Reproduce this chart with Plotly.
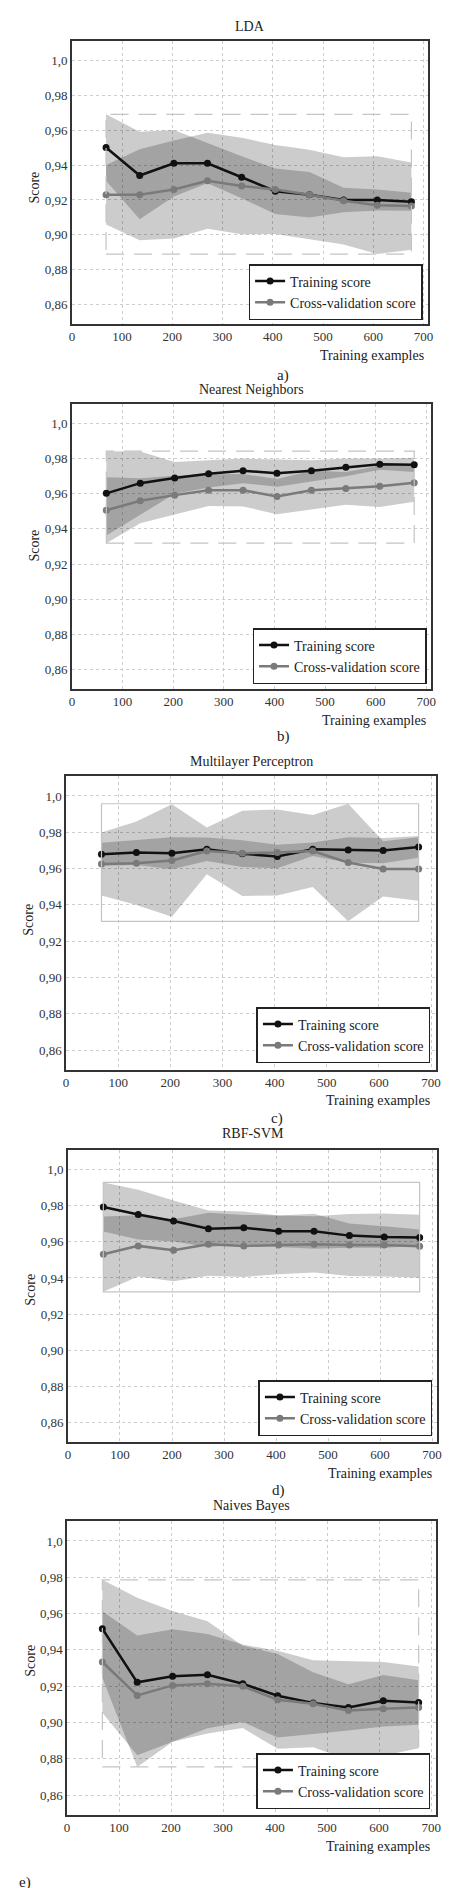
import numpy as np
import plotly.graph_objects as go

# ---- data ----
train_sizes = [68, 135, 203, 270, 338, 405, 473, 541, 608, 676]

lda_train_mean = [0.950, 0.934, 0.941, 0.941, 0.933, 0.925, 0.923, 0.920, 0.920, 0.919]
lda_train_std = [0.019, 0.025, 0.019, 0.0115, 0.012, 0.013, 0.013, 0.007, 0.006, 0.0052]
lda_cv_mean = [0.923, 0.923, 0.926, 0.931, 0.928, 0.926, 0.923, 0.9195, 0.917, 0.9165]
lda_cv_std = [0.017, 0.026, 0.028, 0.0275, 0.0276, 0.0255, 0.0257, 0.025, 0.028, 0.025]

knn_train_mean = [0.9602, 0.966, 0.969, 0.9713, 0.973, 0.9717, 0.973, 0.975, 0.9768, 0.9764]
knn_train_std = [0.024, 0.018, 0.009, 0.0077, 0.007, 0.0077, 0.006, 0.005, 0.0032, 0.0041]
knn_cv_mean = [0.9506, 0.956, 0.9592, 0.962, 0.962, 0.9584, 0.962, 0.963, 0.9642, 0.9663]
knn_cv_std = [0.0187, 0.0128, 0.011, 0.009, 0.0092, 0.010, 0.011, 0.0093, 0.0117, 0.0108]

mlp_train_mean = [0.9679, 0.9688, 0.9684, 0.9706, 0.9682, 0.9666, 0.9706, 0.9702, 0.9699, 0.9719]
mlp_train_std = [0.0063, 0.0069, 0.0088, 0.0065, 0.0074, 0.0065, 0.0037, 0.007, 0.007, 0.006]
mlp_cv_mean = [0.9625, 0.9629, 0.9644, 0.9697, 0.9684, 0.9688, 0.9697, 0.9633, 0.9598, 0.9598]
mlp_cv_std = [0.0173, 0.023, 0.031, 0.0129, 0.0235, 0.0237, 0.0198, 0.0324, 0.0152, 0.0175]

svm_train_mean = [0.9794, 0.9752, 0.9716, 0.9673, 0.9679, 0.9659, 0.9659, 0.9635, 0.9627, 0.9624]
svm_train_std = [0.0136, 0.0138, 0.0114, 0.0101, 0.009, 0.0087, 0.0097, 0.0067, 0.006, 0.0045]
svm_cv_mean = [0.9532, 0.9578, 0.9554, 0.9587, 0.9578, 0.9583, 0.9587, 0.9583, 0.9583, 0.9576]
svm_cv_std = [0.0209, 0.017, 0.0172, 0.0175, 0.0172, 0.0162, 0.0156, 0.0172, 0.0175, 0.0175]

nb_train_mean = [0.9516, 0.9221, 0.9254, 0.9263, 0.9213, 0.9147, 0.9107, 0.9083, 0.912, 0.911]
nb_train_std = [0.027, 0.0466, 0.036, 0.0295, 0.021, 0.023, 0.017, 0.0127, 0.0142, 0.0123]
nb_cv_mean = [0.9333, 0.9149, 0.9204, 0.9213, 0.9199, 0.9125, 0.9103, 0.9066, 0.9075, 0.9083]
nb_cv_std = [0.028, 0.033, 0.031, 0.0274, 0.023, 0.027, 0.024, 0.027, 0.0258, 0.0225]

titles = ['LDA', 'Nearest Neighbors', 'Multilayer Perceptron', 'RBF-SVM', 'Naives Bayes']
tags = ['a)', 'b)', 'c)', 'd)', 'e)']

x_tick_vals = [0, 100, 200, 300, 400, 500, 600, 700]
x_tick_text = ['0', '100', '200', '300', '400', '500', '600', '700']
y_tick_vals = [0.86, 0.88, 0.90, 0.92, 0.94, 0.96, 0.98, 1.0]
y_tick_text = ['0,86', '0,88', '0,90', '0,92', '0,94', '0,96', '0,98', '1,0']

# ---- page geometry (pixels) ----
W, H = 452, 1888
FONT = 'Liberation Serif'

# plot box: left, top, right, bottom
boxes = [(62, 33, 425, 316), (62, 396, 428, 681), (56, 768, 433, 1062),
         (58, 1142, 434, 1434), (57, 1513, 433, 1807)]
title_y = [19, 382, 753, 1125, 1497]
ylabel_pos = [(24, 180), (24, 538), (17, 912), (19, 1282), (19, 1653)]
xlabel_pos = [(422, 347), (425, 712), (429, 1092), (431, 1465), (429, 1838)]
tag_pos = [(277, 367), (277, 728), (271, 1110), (272, 1482), (14, 1874)]
legend_corner = [(419, 312), (423, 676), (427, 1055), (429, 1428), (427, 1801)]
box_dash = ['18px,10px', '18px,10px', 'solid', 'solid', '18px,10px']


def fx(p):
    return p / W


def fy(p):
    return 1 - p / H


def add_panel(fig, i, train_mean, train_std, cv_mean, cv_std):
    """adds one learning curve panel (bands, lines, decorations)"""
    n = '' if i == 0 else str(i + 1)
    xa, ya = 'x' + n, 'y' + n
    leg = 'legend' + n

    x = np.array(train_sizes)
    tm, ts = np.array(train_mean), np.array(train_std)
    cm, cs = np.array(cv_mean), np.array(cv_std)

    # mean +/- std bands, the overlap comes out darker
    for m, s in ((tm, ts), (cm, cs)):
        fig.add_trace(go.Scatter(
            x=np.concatenate([x, x[::-1]]),
            y=np.concatenate([m + s, (m - s)[::-1]]),
            fill='toself', fillcolor='rgba(0,0,0,0.2)',
            line=dict(width=0), mode='lines', hoverinfo='skip',
            showlegend=False, xaxis=xa, yaxis=ya))

    fig.add_trace(go.Scatter(
        x=x, y=tm, mode='lines+markers', name='Training score',
        line=dict(color='#111111', width=2.5),
        marker=dict(size=7, color='#111111'),
        legend=leg, xaxis=xa, yaxis=ya))
    fig.add_trace(go.Scatter(
        x=x, y=cm, mode='lines+markers', name='Cross-validation score',
        line=dict(color='#7a7a7a', width=2.5),
        marker=dict(size=7, color='#7a7a7a'),
        legend=leg, xaxis=xa, yaxis=ya))

    # faint bounding frame of the shaded areas (visible in the scan)
    fig.add_shape(type='rect', xref=xa, yref=ya,
                  x0=x.min(), x1=x.max(),
                  y0=min((tm - ts).min(), (cm - cs).min()),
                  y1=max((tm + ts).max(), (cm + cs).max()),
                  line=dict(color='#c4c4c4', width=1.2, dash=box_dash[i]),
                  layer='above')

    l, t, r, b = boxes[i]
    axis_common = dict(showgrid=True, gridcolor='#cdcdcd', griddash='dot',
                       gridwidth=1, showline=True, mirror=True,
                       linecolor='#333333', linewidth=1.5, zeroline=False,
                       ticks='', tickfont=dict(family=FONT, size=13, color='#333333'))
    fig.update_layout({
        'xaxis' + n: dict(domain=[fx(l), fx(r)], range=[0, 710], anchor=ya,
                          tickvals=x_tick_vals, ticktext=x_tick_text, **axis_common),
        'yaxis' + n: dict(domain=[fy(b), fy(t)], range=[0.849, 1.011], anchor=xa,
                          tickvals=y_tick_vals, ticktext=y_tick_text, **axis_common),
        leg: dict(x=fx(legend_corner[i][0]), y=fy(legend_corner[i][1]),
                  xanchor='right', yanchor='bottom', bgcolor='white',
                  bordercolor='#222222', borderwidth=1.5,
                  font=dict(family=FONT, size=14, color='#222222'),
                  tracegroupgap=0, itemwidth=30),
    })

    text_font = dict(family=FONT, color='#222222')
    fig.add_annotation(text=titles[i], x=fx((l + r) / 2), y=fy(title_y[i]),
                       xref='paper', yref='paper', showarrow=False,
                       xanchor='center', yanchor='middle',
                       font=dict(size=14, **text_font))
    fig.add_annotation(text='Training examples', x=fx(xlabel_pos[i][0]),
                       y=fy(xlabel_pos[i][1]), xref='paper', yref='paper',
                       showarrow=False, xanchor='right', yanchor='middle',
                       font=dict(size=14, **text_font))
    fig.add_annotation(text='Score', x=fx(ylabel_pos[i][0]),
                       y=fy(ylabel_pos[i][1]), xref='paper', yref='paper',
                       showarrow=False, textangle=-90, xanchor='center',
                       yanchor='middle', font=dict(size=14, **text_font))
    fig.add_annotation(text=tags[i], x=fx(tag_pos[i][0]), y=fy(tag_pos[i][1]),
                       xref='paper', yref='paper', showarrow=False,
                       xanchor='center', yanchor='middle',
                       font=dict(size=15, **text_font))


fig = go.Figure()
panel_data = [
    (lda_train_mean, lda_train_std, lda_cv_mean, lda_cv_std),
    (knn_train_mean, knn_train_std, knn_cv_mean, knn_cv_std),
    (mlp_train_mean, mlp_train_std, mlp_cv_mean, mlp_cv_std),
    (svm_train_mean, svm_train_std, svm_cv_mean, svm_cv_std),
    (nb_train_mean, nb_train_std, nb_cv_mean, nb_cv_std),
]
for i, d in enumerate(panel_data):
    add_panel(fig, i, *d)

fig.update_layout(width=W, height=H, margin=dict(l=0, r=0, t=0, b=0),
                  paper_bgcolor='white', plot_bgcolor='white',
                  font=dict(family=FONT), showlegend=True)

fig.write_html("out.html")
